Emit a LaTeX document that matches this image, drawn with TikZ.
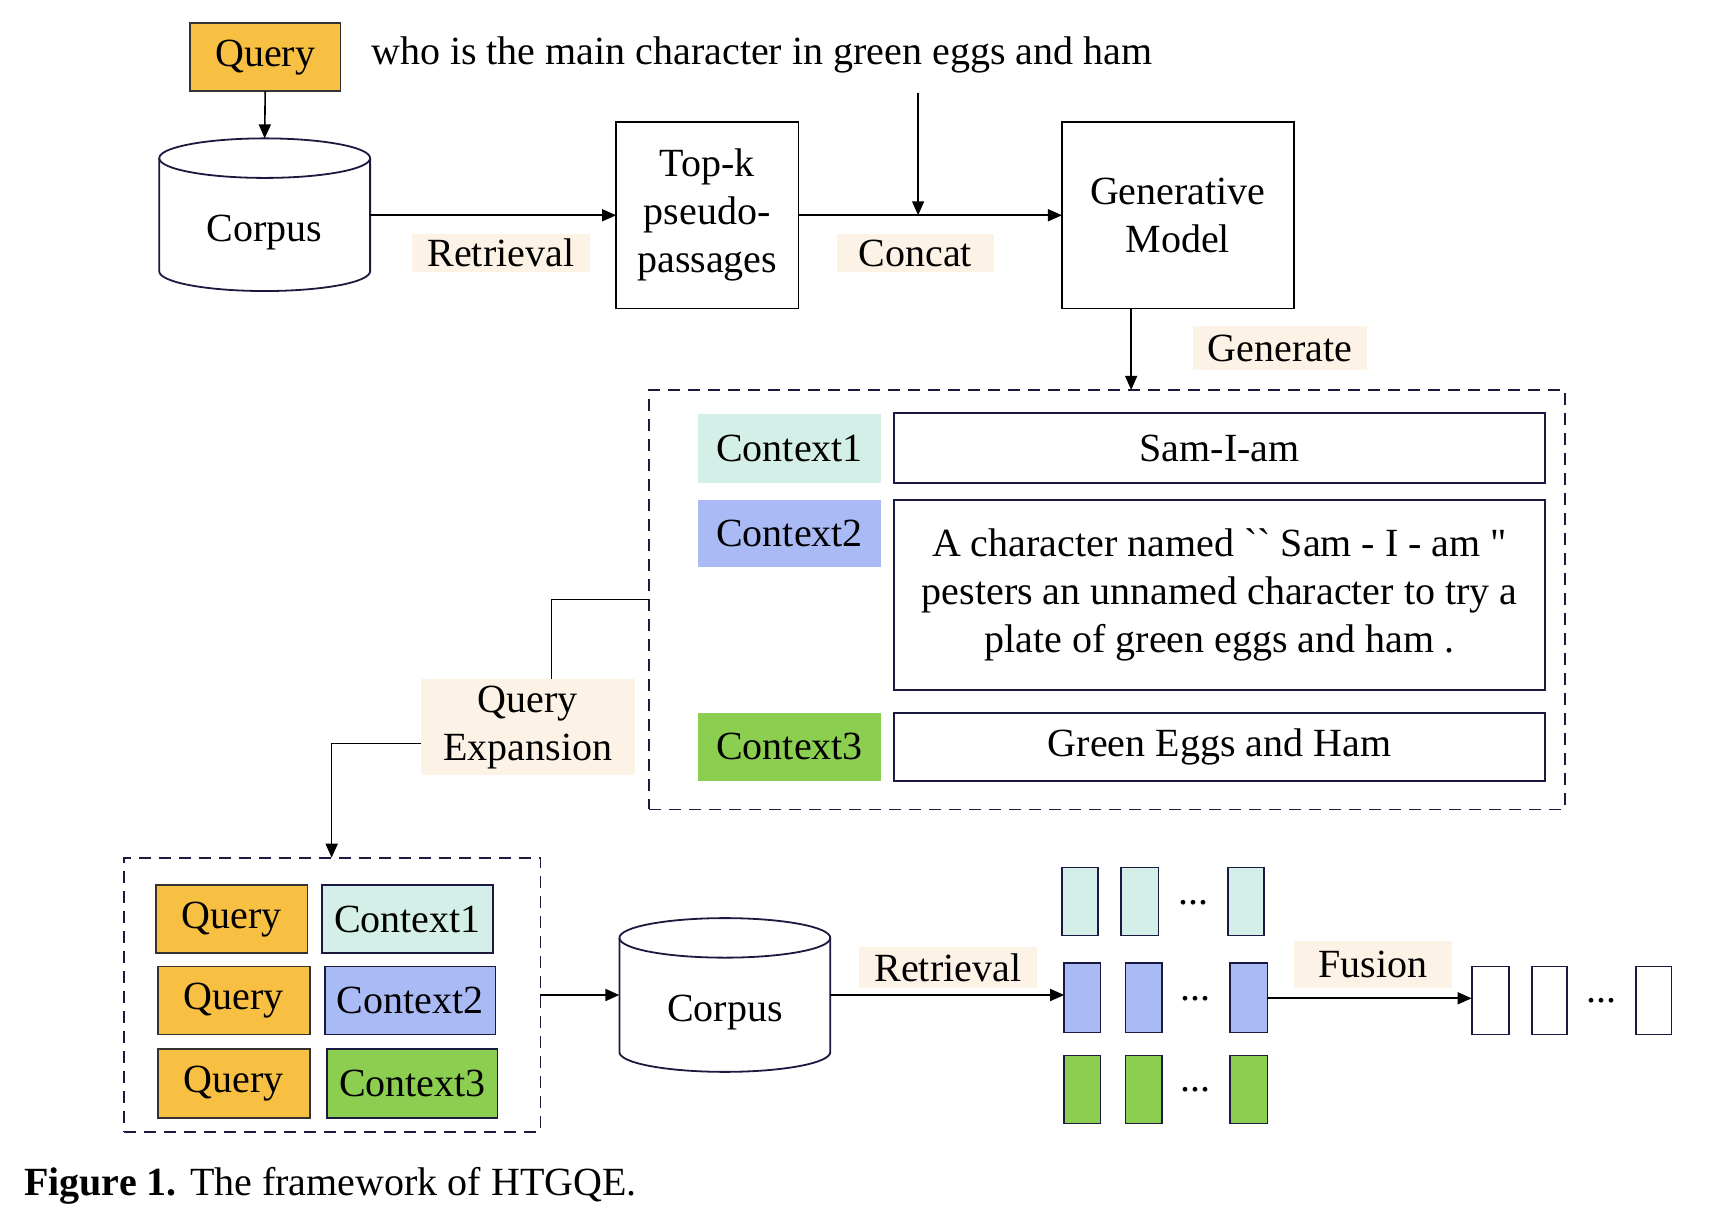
\documentclass[tikz,border=0pt]{standalone}
\usepackage{fontspec}
\setmainfont{Liberation Serif}
\newfontfamily\rawf{Liberation Serif}
\usetikzlibrary{arrows.meta}
\definecolor{qor}{HTML}{F8C043}
\definecolor{c1}{HTML}{D3EFE8}
\definecolor{c2}{HTML}{AABAF5}
\definecolor{c3}{HTML}{8CCF50}
\definecolor{lbg}{HTML}{FDF2E6}
\definecolor{nv}{HTML}{1A1A40}
\newcommand{\bx}[7]{\node[#6, minimum width={(#4-#2)*0.549pt}, minimum height={(#5-#3)*0.549pt}] (#1) at ({(#2+#4)/2},{(#3+#5)/2}) {#7};}
\begin{document}
\begin{tikzpicture}[x=0.549pt,y=-0.549pt,
  every node/.style={inner sep=0pt,outer sep=0pt,font=\fontsize{20}{24}\selectfont},
  box/.style={draw=black,line width=0.8pt,align=center},
  nbox/.style={draw=nv,line width=0.9pt,align=center},
  q/.style={draw=black!80,line width=0.8pt,fill=qor},
  k1/.style={fill=c1},k2/.style={fill=c2},k3/.style={fill=c3},
  kk1/.style={draw=nv,line width=0.8pt,fill=c1},kk2/.style={draw=nv,line width=0.8pt,fill=c2},kk3/.style={draw=nv,line width=0.8pt,fill=c3},
  lab/.style={fill=lbg,align=center},
  arr/.style={-{Triangle[length=7pt,width=6pt]},line width=0.8pt},
  dsh/.style={draw=nv,line width=0.8pt,dash pattern=on 6pt off 4pt},
  sm/.style={draw=nv,line width=0.9pt},
  cylb/.style={draw=nv,line width=0.9pt}]
\useasboundingbox (0,0) rectangle (1568,1107);
\fill[white] (0,0) rectangle (1568,1107);
\bx{q0}{173}{21}{310}{83}{q}{Query}
\node[anchor=west] (qt) at (338,50) {who is the main character in green eggs and ham};
\node (cp1) at (241,195) [minimum width=192*0.549pt,minimum height=140*0.549pt] {};
\draw[cylb] (145,144) -- (145,247) arc[start angle=180,end angle=0,x radius=96,y radius=18] -- (337,144) arc[start angle=0,end angle=-180,x radius=96,y radius=18] -- cycle;
\draw[cylb] (145,144) arc[start angle=180,end angle=0,x radius=96,y radius=18];
\node (cpt1) at (241,212) {Corpus};
\bx{tk}{561}{111}{727}{281}{box}{Top-k\\pseudo-\\passages}
\bx{gm}{967}{111}{1178}{281}{box}{Generative\\Model}
\draw[arr] (q0.south) -- (241,126);
\draw[arr] (cp1.east |- 0,196) -- (tk.west |- 0,196);
\bx{lr1}{375}{213}{537}{248}{lab}{Retrieval}
\draw[arr] (tk.east |- 0,196) -- (gm.west |- 0,196);
\coordinate (cc) at (836,85);
\draw[arr] (cc) -- (836,196);
\bx{lc}{762}{213}{905}{248}{lab}{Concat}
\bx{dz}{591}{355}{1425}{737}{dsh}{}
\draw[arr] (gm.south -| 1030,0) -- (dz.north -| 1030,0);
\bx{lg}{1086}{297}{1245}{337}{lab}{Generate}
\bx{k1n}{636}{377}{802}{440}{k1}{Context1}
\bx{s1}{814}{376}{1407}{440}{nbox}{Sam-I-am}
\bx{k2n}{636}{455}{802}{516}{k2}{Context2}
\bx{s2}{814}{455}{1407}{628}{nbox}{A character named {\rawf ``} Sam - I - am {\rawf "}\\pesters an unnamed character to try a\\plate of green eggs and ham .}
\bx{k3n}{636}{649}{802}{711}{k3}{Context3}
\bx{s3}{814}{649}{1407}{711}{nbox}{Green Eggs and Ham}
\bx{lq}{383}{618}{578}{706}{lab}{Query\\Expansion}
\bx{dz2}{113}{781}{492}{1031}{dsh}{}
\draw[line width=0.8pt] (dz.west |- 0,546) -| (lq.north -| 502,0);
\draw[arr] (lq.west |- 0,677) -| (dz2.north -| 302,0);
\bx{qa}{142}{806}{280}{868}{q}{Query}
\bx{qb}{144}{880}{282}{942}{q}{Query}
\bx{qc}{144}{955}{282}{1018}{q}{Query}
\bx{ca}{293}{806}{449}{868}{kk1}{Context1}
\bx{cb}{296}{880}{451}{942}{kk2}{Context2}
\bx{cc3}{298}{955}{453}{1018}{kk3}{Context3}
\node (cp2) at (660,906) [minimum width=192*0.549pt,minimum height=140*0.549pt] {};
\draw[cylb] (564,854) -- (564,958) arc[start angle=180,end angle=0,x radius=96,y radius=18] -- (756,854) arc[start angle=0,end angle=-180,x radius=96,y radius=18] -- cycle;
\draw[cylb] (564,854) arc[start angle=180,end angle=0,x radius=96,y radius=18];
\node (cpt2) at (660,922) {Corpus};
\draw[arr] (dz2.east |- 0,906) -- (cp2.west |- 0,906);
\bx{r11}{967}{790}{1000}{852}{kk1}{}
\bx{r12}{1021}{790}{1055}{852}{kk1}{}
\bx{r13}{1118}{790}{1151}{852}{kk1}{}
\bx{r21}{969}{877}{1002}{940}{kk2}{}
\bx{r22}{1025}{877}{1058}{940}{kk2}{}
\bx{r23}{1120}{877}{1154}{940}{kk2}{}
\bx{r31}{969}{961}{1002}{1023}{kk3}{}
\bx{r32}{1025}{961}{1058}{1023}{kk3}{}
\bx{r33}{1120}{961}{1154}{1023}{kk3}{}
\node (d1) at (1087,822) {...};
\node (d2) at (1089,909) {...};
\node (d3) at (1089,992) {...};
\draw[arr] (cp2.east |- 0,906) -- (r21.west |- 0,906);
\bx{lr2}{782}{862}{944}{900}{lab}{Retrieval}
\bx{f1}{1340}{880}{1374}{942}{sm}{}
\bx{f2}{1395}{880}{1427}{942}{sm}{}
\bx{f3}{1490}{880}{1522}{942}{sm}{}
\node (d4) at (1458,911) {...};
\draw[arr] (r23.east |- 0,909) -- (f1.west |- 0,909);
\bx{lf}{1178}{857}{1322}{900}{lab}{Fusion}
\node[anchor=west] (cap) at (22,1080) {\textbf{Figure 1.} The framework of HTGQE.};
\end{tikzpicture}
\end{document}
